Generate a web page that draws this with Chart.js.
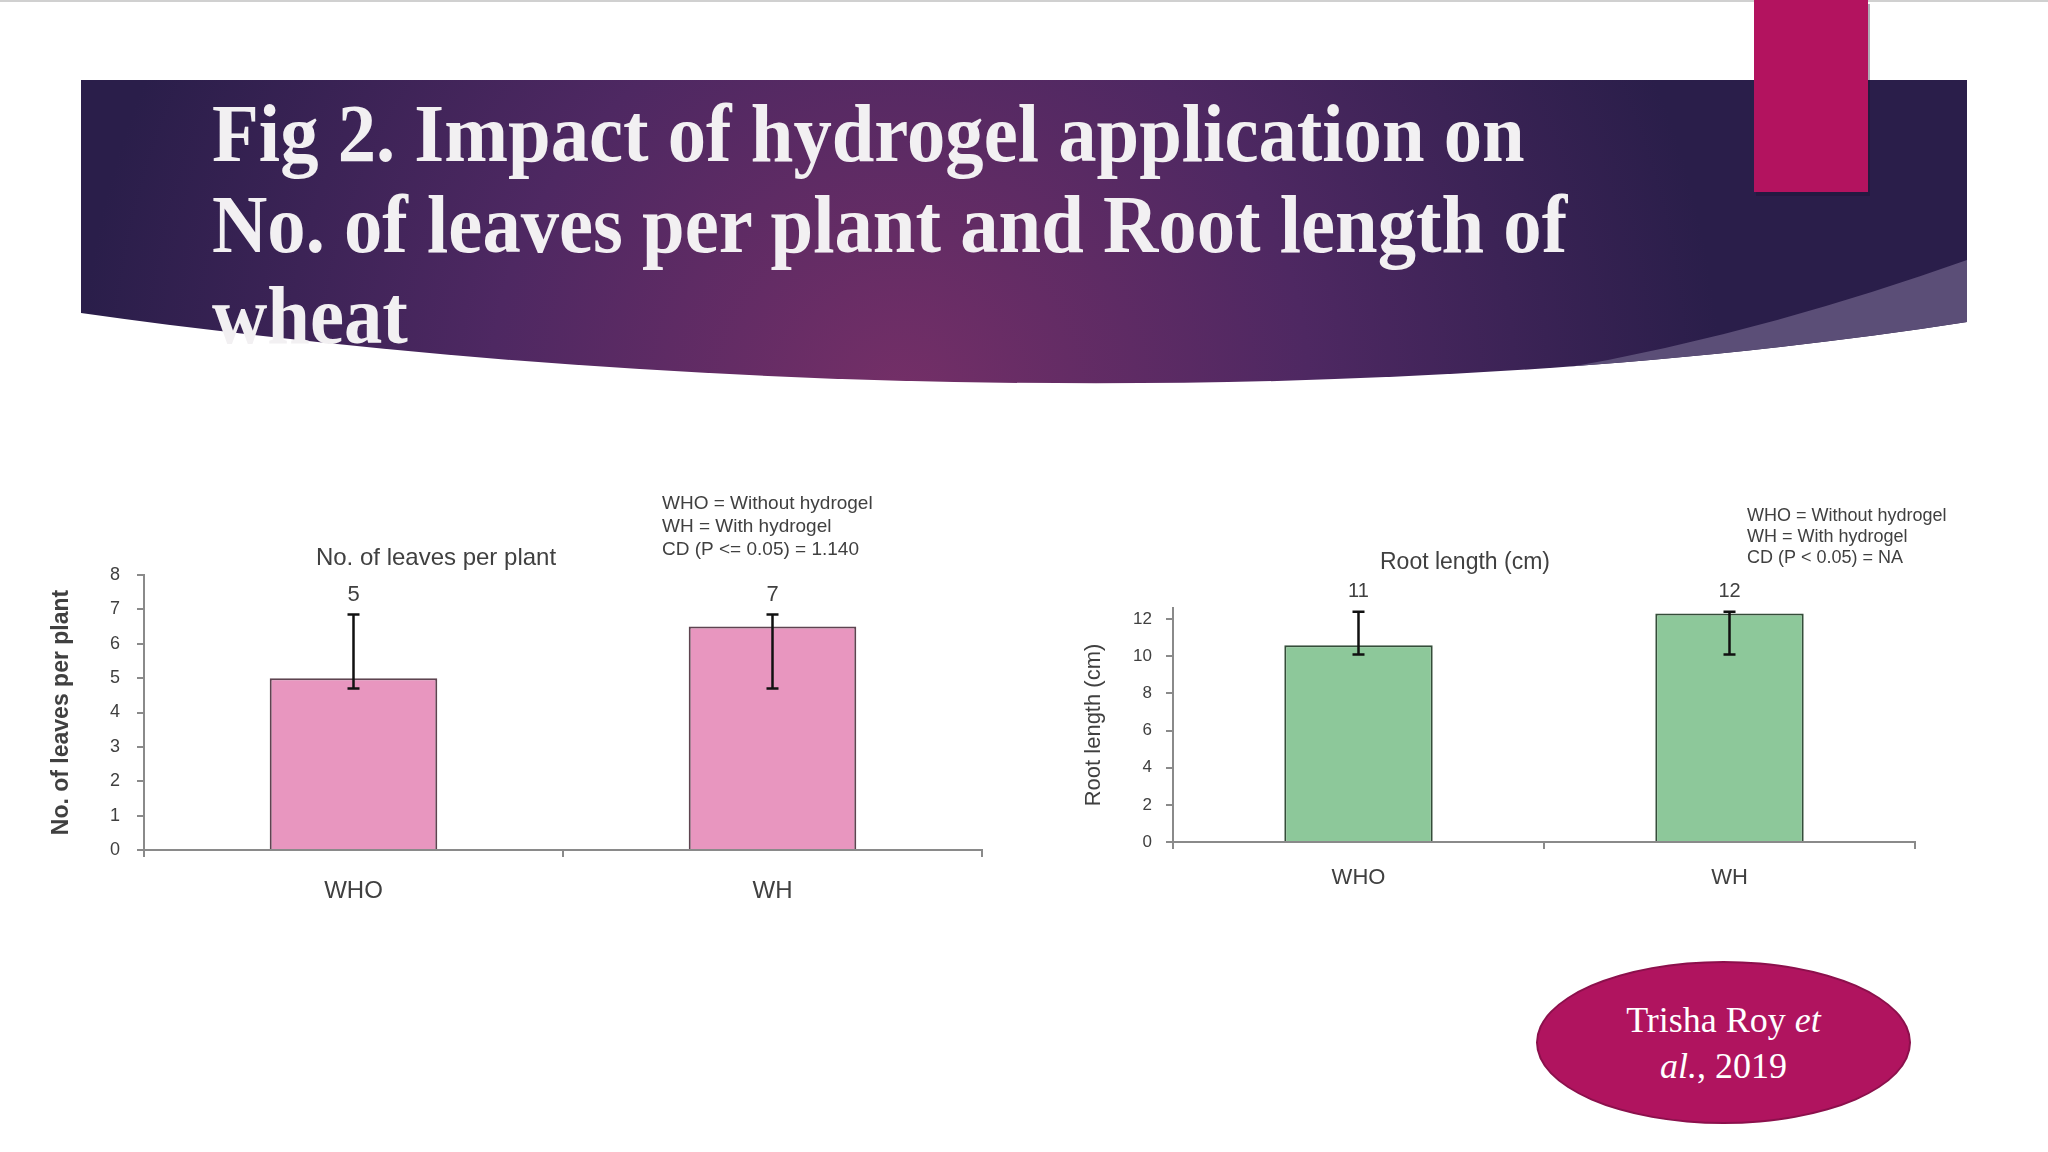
<!DOCTYPE html>
<html>
<head>
<meta charset="utf-8">
<script src="https://cdn.jsdelivr.net/npm/chart.js@4.4.1/dist/chart.umd.min.js"></script>
<style>
  html, body { margin: 0; padding: 0; background: #fff; }
  #slide { position: relative; width: 2048px; height: 1152px; overflow: hidden; background: #fff; }
  #deco { position: absolute; left: 0; top: 0; }
  #heading {
    position: absolute; left: 212px; top: 88px;
    font-family: 'Liberation Serif', 'Times New Roman', serif; font-weight: bold;
    font-size: 82px; line-height: 91px; color: #f2f0f2;
    transform: scaleX(0.935); transform-origin: 0 0; white-space: nowrap;
  }
  .chart-box { position: absolute; }
  #cite {
    position: absolute; left: 1536px; top: 961px; width: 371px; height: 159px;
    border-radius: 50%; background: #b0145f; border: 2px solid #8c104c;
    display: flex; align-items: center; justify-content: center; text-align: center;
    font-family: 'Liberation Serif', 'Times New Roman', serif; font-size: 36px; line-height: 46px; color: #fff;
  }
</style>
</head>
<body>
<div id="slide">
  <svg id="deco" width="2048" height="1152">
    <defs>
      <radialGradient id="bannerFill" cx="900" cy="400" r="820" gradientUnits="userSpaceOnUse">
        <stop offset="0" stop-color="#742f67"/>
        <stop offset="0.5" stop-color="#4e2862"/>
        <stop offset="1" stop-color="#2a1e4a"/>
      </radialGradient>
      <clipPath id="bannerClip"><path d="M81,80 H1967 V322 C1400,410 700,400 81,313 Z"/></clipPath>
    </defs>
    <line x1="0" y1="1" x2="2048" y2="1" stroke="#d0d0d0" stroke-width="2"/>
    <path d="M81,80 H1967 V322 C1400,410 700,400 81,313 Z" fill="url(#bannerFill)"/>
    <path d="M1967,260 Q1700,355 1450,385 L1967,430 Z" fill="#5b4e77" clip-path="url(#bannerClip)"/>
    <rect x="1756" y="4" width="114" height="192" fill="#1a1030" opacity="0.35"/>
    <rect x="1754" y="0" width="114" height="192" fill="#b3135f"/>
  </svg>

  <div id="heading">Fig 2. Impact of hydrogel application on<br>No. of leaves per plant and Root length of<br>wheat</div>

  <div class="chart-box" style="left:0px; top:470px;"><canvas id="leafChart" width="1010" height="460"></canvas></div>
  <div class="chart-box" style="left:1040px; top:470px;"><canvas id="rootChart" width="990" height="460"></canvas></div>

  <div id="cite"><div>Trisha Roy <i>et</i><br><i>al.</i>, 2019</div></div>
</div>

<script>
// ── Data ─────────────────────────────────────────────────────────
const categories = ['WHO', 'WH'];

const leafValues = [5.0, 6.5];
const leafErrLow = [4.7, 4.7];
const leafErrHigh = [6.85, 6.85];
const leafLabels = ['5', '7'];
const leafTicks = [0, 1, 2, 3, 4, 5, 6, 7, 8];
const leafNotes = ['WHO = Without hydrogel', 'WH = With hydrogel', 'CD (P <= 0.05) = 1.140'];

const rootValues = [10.6, 12.3];
const rootErrLow = [10.1, 10.1];
const rootErrHigh = [12.4, 12.4];
const rootLabels = ['11', '12'];
const rootTicks = [0, 2, 4, 6, 8, 10, 12];
const rootNotes = ['WHO = Without hydrogel', 'WH = With hydrogel', 'CD (P < 0.05) = NA'];

// ── Helpers ──────────────────────────────────────────────────────
const TEXT = '#404040';
const AXIS = '#8a8a8a';
const SANS = "'Liberation Sans', Arial, sans-serif";

// draws error bars, value labels, the chart heading and the note block
function overlay(c) {
  return {
    id: 'overlay',
    afterDatasetsDraw(chart) {
      const ctx = chart.ctx;
      const y = chart.scales.y;
      const bars = chart.getDatasetMeta(0).data;
      ctx.save();
      ctx.strokeStyle = '#111';
      ctx.lineWidth = 2.5;
      bars.forEach((bar, i) => {
        const top = y.getPixelForValue(c.high[i]);
        const bot = y.getPixelForValue(c.low[i]);
        ctx.beginPath();
        ctx.moveTo(bar.x, top); ctx.lineTo(bar.x, bot);
        ctx.moveTo(bar.x - 6, top); ctx.lineTo(bar.x + 6, top);
        ctx.moveTo(bar.x - 6, bot); ctx.lineTo(bar.x + 6, bot);
        ctx.stroke();
        ctx.fillStyle = TEXT;
        ctx.font = `${c.labelSize}px ${SANS}`;
        ctx.textAlign = 'center';
        ctx.textBaseline = 'middle';
        ctx.fillText(c.labels[i], bar.x, top - 20);
      });

      ctx.font = `${c.titleSize}px ${SANS}`;
      ctx.fillText(c.title, c.titleX, c.titleY);

      ctx.font = `${c.noteSize}px ${SANS}`;
      ctx.textAlign = 'left';
      c.notes.forEach((line, i) => ctx.fillText(line, c.noteX, c.noteY + i * c.noteGap));
      ctx.restore();
    }
  };
}

function makeChart(id, o) {
  return new Chart(document.getElementById(id), {
    type: 'bar',
    data: {
      labels: categories,
      datasets: [{
        data: o.values,
        backgroundColor: o.fill,
        borderColor: o.border,
        borderWidth: 2,
        barPercentage: 0.4,
        categoryPercentage: 1,
      }]
    },
    options: {
      responsive: false,
      animation: false,
      layout: { padding: { left: o.padLeft, right: o.padRight, top: o.padTop, bottom: 0 } },
      plugins: { legend: { display: false }, tooltip: { enabled: false } },
      scales: {
        x: {
          afterFit: (s) => { s.height = o.xHeight; },
          grid: { offset: true, drawOnChartArea: false, drawTicks: true, tickLength: 7, color: AXIS, lineWidth: 2 },
          border: { display: true, color: AXIS, width: 2 },
          ticks: { padding: o.xPad, color: TEXT, font: { family: SANS, size: o.xSize } },
        },
        y: {
          min: 0,
          max: o.max,
          afterBuildTicks: (s) => { s.ticks = o.ticks.map(v => ({ value: v })); },
          afterFit: (s) => { s.width = o.yWidth; },
          grid: { drawOnChartArea: false, drawTicks: true, tickLength: 7, color: AXIS, lineWidth: 2 },
          border: { display: true, color: AXIS, width: 2 },
          ticks: { padding: o.yPad, color: TEXT, font: { family: SANS, size: o.ySize } },
          title: {
            display: true, text: o.yTitle, color: TEXT,
            font: { family: SANS, size: o.yTitleSize, weight: o.yTitleWeight },
            padding: { top: 0, bottom: 0 },
          },
        },
      },
    },
    plugins: [overlay(o.overlay)],
  });
}

// ── Charts ───────────────────────────────────────────────────────
makeChart('leafChart', {
  values: leafValues, ticks: leafTicks, max: 8,
  fill: '#e896bf', border: '#5e4450',
  padLeft: 48, padRight: 28, padTop: 105, yWidth: 96, xHeight: 80,
  xPad: 20, xSize: 24, yPad: 17, ySize: 18,
  yTitle: 'No. of leaves per plant', yTitleSize: 23, yTitleWeight: 'bold',
  overlay: {
    low: leafErrLow, high: leafErrHigh, labels: leafLabels, labelSize: 22,
    title: 'No. of leaves per plant', titleSize: 24, titleX: 436, titleY: 88,
    notes: leafNotes, noteSize: 19, noteX: 662, noteY: 34, noteGap: 23,
  },
});

makeChart('rootChart', {
  values: rootValues, ticks: rootTicks, max: 12.6,
  fill: '#8dc89a', border: '#344d39',
  padLeft: 41, padRight: 115, padTop: 138, yWidth: 92, xHeight: 88,
  xPad: 16, xSize: 22, yPad: 14, ySize: 17,
  yTitle: 'Root length (cm)', yTitleSize: 22, yTitleWeight: 'normal',
  overlay: {
    low: rootErrLow, high: rootErrHigh, labels: rootLabels, labelSize: 20,
    title: 'Root length (cm)', titleSize: 23, titleX: 425, titleY: 93,
    notes: rootNotes, noteSize: 18, noteX: 707, noteY: 46, noteGap: 21,
  },
});
</script>
</body>
</html>
